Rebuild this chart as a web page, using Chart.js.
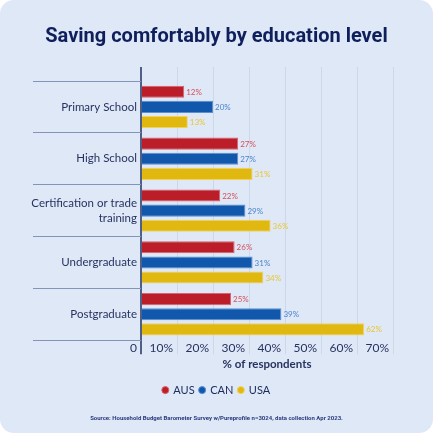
<!DOCTYPE html>
<html>
<head>
<meta charset="utf-8">
<script src="https://cdn.jsdelivr.net/npm/chart.js@4"></script>
<style>
  html, body { margin: 0; padding: 0; background: #ffffff; }
  #card { position: absolute; left: 0; top: 0; width: 433px; height: 433px; background: #dfe8f7; border-radius: 14px; overflow: hidden; }
  canvas { display: block; }
</style>
</head>
<body>
<div id="card"><canvas id="c" width="433" height="433"></canvas></div>
<script>
const categories = ['Primary School', 'High School', ['Certification or trade', 'training'], 'Undergraduate', 'Postgraduate'];
const seriesNames = ['AUS', 'CAN', 'USA'];
const ausValues = [12, 27, 22, 26, 25];
const canValues = [20, 27, 29, 31, 39];
const usaValues = [13, 31, 36, 34, 62];
const xTickValues = [0, 10, 20, 30, 40, 50, 60, 70];
const xTickLabels = ['0', '10%', '20%', '30%', '40%', '50%', '60%', '70%'];

const barColors = ['#bb1d29', '#1158ad', '#e0b810'];
const borderColors = ['#d9626b', '#5a8fd0', '#f0d35a'];
const labelColors = ['#d4505b', '#4a84cc', '#e8c634'];

const AXIS = '#4f5f86';
const GRID = '#cdd7ea';
const SEP = '#8494b8';
const TEXT = '#27335f';

const dataLabelPlugin = {
  id: 'dataLabels',
  afterDatasetsDraw(chart) {
    const ctx = chart.ctx;
    ctx.save();
    ctx.font = '8px Lato';
    ctx.textAlign = 'left';
    ctx.textBaseline = 'middle';
    chart.data.datasets.forEach((ds, di) => {
      const meta = chart.getDatasetMeta(di);
      meta.data.forEach((bar, i) => {
        ctx.fillStyle = labelColors[di];
        ctx.fillText(ds.data[i] + '%', bar.x + 2, bar.y + 0.5);
      });
    });
    ctx.restore();
  }
};

const lineColor = (c) => (c.tick && c.tick.value === 0 ? AXIS : GRID);
const lineW = (c) => (c.tick && c.tick.value === 0 ? 2 : 1);

new Chart(document.getElementById('c'), {
  type: 'bar',
  data: {
    labels: categories,
    datasets: [
      { label: seriesNames[0], data: ausValues, backgroundColor: barColors[0], borderColor: borderColors[0], borderWidth: 1, xAxisID: 'x' },
      { label: seriesNames[1], data: canValues, backgroundColor: barColors[1], borderColor: borderColors[1], borderWidth: 1, xAxisID: 'x' },
      { label: seriesNames[2], data: usaValues, backgroundColor: barColors[2], borderColor: borderColors[2], borderWidth: 1, xAxisID: 'x' }
    ]
  },
  options: {
    indexAxis: 'y',
    responsive: false,
    animation: false,
    devicePixelRatio: 1,
    categoryPercentage: 0.875,
    barPercentage: 0.8,
    layout: { padding: 0 },
    scales: {
      x: {
        position: 'bottom',
        min: 0, max: 70,
        afterBuildTicks: (s) => { s.ticks = xTickValues.map(v => ({ value: v })); },
        afterFit: (s) => { s.height = 39.4; },
        border: { display: false },
        grid: { color: lineColor, lineWidth: lineW, tickLength: 14, drawTicks: true },
        ticks: {
          align: 'end',
          labelOffset: -4,
          padding: -13,
          color: TEXT,
          font: { family: 'Lato', size: 12 },
          callback: (v, i) => xTickLabels[i]
        },
        title: {
          display: true,
          text: '% of respondents',
          color: TEXT,
          font: { family: 'Lato', size: 11.5, weight: 'bold' },
          padding: { top: 0, bottom: 8.5 }
        }
      },
      x2: {
        position: 'top',
        min: 0, max: 70,
        afterBuildTicks: (s) => { s.ticks = xTickValues.map(v => ({ value: v })); },
        border: { display: false },
        grid: { color: lineColor, lineWidth: lineW, tickLength: 14, drawOnChartArea: false },
        ticks: { display: false }
      },
      y: {
        afterFit: (s) => { s.width = 141; },
        border: { display: false },
        grid: { offset: true, drawOnChartArea: false, tickLength: 108, color: SEP, lineWidth: 1 },
        ticks: {
          padding: -104,
          color: TEXT,
          font: { family: 'Lato', size: 11.5, lineHeight: 1.3 }
        }
      },
      yRight: {
        type: 'category',
        position: 'right',
        afterFit: (s) => { s.width = 40; },
        border: { display: false },
        grid: { display: false },
        ticks: { display: false }
      }
    },
    plugins: {
      title: {
        display: true,
        text: 'Saving comfortably by education level',
        color: '#0f1f5c',
        font: { family: 'Roboto', size: 20, weight: 'bold' },
        padding: { top: 25, bottom: 18 }
      },
      subtitle: {
        display: true,
        position: 'bottom',
        text: 'Source: Household Budget Barometer Survey w/Pureprofile n=3024, data collection Apr 2023.',
        color: '#2b3a7c',
        font: { family: 'Roboto', size: 6, weight: 'bold' },
        padding: { top: 8.8, bottom: 11.4 }
      },
      legend: {
        position: 'bottom',
        labels: {
          usePointStyle: true,
          pointStyle: 'circle',
          boxWidth: 5,
          boxHeight: 5,
          padding: 5,
          color: '#1c2a5a',
          font: { family: 'Lato', size: 11 }
        }
      },
      tooltip: { enabled: false }
    }
  },
  plugins: [dataLabelPlugin]
});
</script>
</body>
</html>
